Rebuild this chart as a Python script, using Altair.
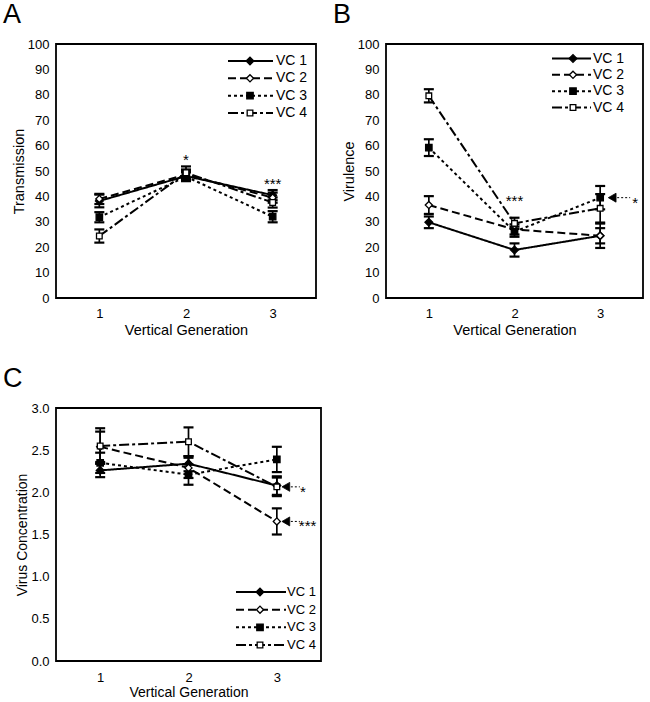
import altair as alt
import pandas as pd

FONT = "Liberation Sans"

generations = [1, 2, 3]
series = ["VC 1", "VC 2", "VC 3", "VC 4"]

# A: transmission, mean and standard error by vertical generation
transmission = {
    "VC 1": [38.2, 48.0, 40.5],
    "VC 2": [39.0, 48.6, 39.5],
    "VC 3": [31.8, 47.8, 32.0],
    "VC 4": [24.4, 49.3, 37.6],
}
transmission_err = {
    "VC 1": [2.5, 2.0, 2.0],
    "VC 2": [2.0, 2.0, 2.0],
    "VC 3": [2.0, 1.6, 2.2],
    "VC 4": [2.6, 2.5, 2.0],
}

# B: virulence
virulence = {
    "VC 1": [29.8, 18.9, 24.5],
    "VC 2": [36.6, 27.0, 24.5],
    "VC 3": [59.2, 26.1, 39.5],
    "VC 4": [79.6, 29.4, 35.3],
}
virulence_err = {
    "VC 1": [2.3, 2.6, 3.0],
    "VC 2": [3.5, 2.0, 4.8],
    "VC 3": [3.3, 2.0, 4.6],
    "VC 4": [2.6, 2.2, 5.6],
}

# C: virus concentration
concentration = {
    "VC 1": [2.26, 2.34, 2.08],
    "VC 2": [2.54, 2.29, 1.655],
    "VC 3": [2.35, 2.21, 2.39],
    "VC 4": [2.55, 2.60, 2.065],
}
concentration_err = {
    "VC 1": [0.08, 0.09, 0.11],
    "VC 2": [0.18, 0.12, 0.155],
    "VC 3": [0.12, 0.12, 0.15],
    "VC 4": [0.21, 0.17, 0.11],
}

ticks_ab = [0, 10, 20, 30, 40, 50, 60, 70, 80, 90, 100]
ticks_c = [0.0, 0.5, 1.0, 1.5, 2.0, 2.5, 3.0]

marker_shapes = ["diamond", "diamond", "square", "square"]
marker_fills = ["black", "white", "black", "white"]
marker_sizes = [60, 32, 55, 55]
line_dashes = [[1, 0], [8, 4], [3, 3], [10, 3, 3, 3]]


def long_table(means, errs):
    rows = []
    for s in series:
        for g, v, e in zip(generations, means[s], errs[s]):
            rows.append({"gen": g, "series": s, "value": v, "lo": v - e, "hi": v + e})
    return pd.DataFrame(rows)


def cap_table(df):
    lo = df[["gen", "series", "lo"]].rename(columns={"lo": "value"})
    hi = df[["gen", "series", "hi"]].rename(columns={"hi": "value"})
    return pd.concat([lo, hi], ignore_index=True)


shape_enc = alt.Shape("series:N", scale=alt.Scale(domain=series, range=marker_shapes), legend=None)
fill_enc = alt.Fill("series:N", scale=alt.Scale(domain=series, range=marker_fills), legend=None)
size_enc = alt.Size("series:N", scale=alt.Scale(domain=series, range=marker_sizes), legend=None)
dash_enc = alt.StrokeDash("series:N", scale=alt.Scale(domain=series, range=line_dashes), legend=None)


def panel(df, letter, ytitle, ydomain, yticks, yfmt, width, height,
          legend_rows, legend_x, legend_font, annotations, fs):
    xscale = alt.Scale(domain=[0.5, 3.5], nice=False, zero=False)
    xaxis = alt.Axis(values=generations, format="d", title="Vertical Generation",
                     ticks=False, domain=False, grid=False,
                     labelPadding=fs["xlabpad"], titlePadding=fs["xtitlepad"],
                     labelFontSize=fs["label"], titleFontSize=fs["title"])
    yscale = alt.Scale(domain=ydomain, nice=False, zero=True)
    yaxis = alt.Axis(values=yticks, format=yfmt, title=ytitle,
                     ticks=False, domain=False, grid=False,
                     labelPadding=fs["ylabpad"], titlePadding=fs["ytitlepad"],
                     labelFontSize=fs["label"], titleFontSize=fs["title"])

    def X(field):
        return alt.X(field, scale=xscale, axis=xaxis)

    def Y(field):
        return alt.Y(field, scale=yscale, axis=yaxis)

    base = alt.Chart(df)
    lines = base.mark_line(color="black", strokeWidth=2).encode(
        x=X("gen:Q"), y=Y("value:Q"), detail="series:N", strokeDash=dash_enc)
    bars = base.mark_rule(color="black", strokeWidth=1.7).encode(
        x=X("gen:Q"), y=Y("lo:Q"), y2="hi:Q")
    caps = alt.Chart(cap_table(df)).mark_rule(
        color="black", strokeWidth=2.2, xOffset=-5, x2Offset=5).encode(
        x=X("gen:Q"), x2="gen:Q", y=Y("value:Q"))
    points = base.mark_point(filled=True, stroke="black", strokeWidth=1.3, opacity=1).encode(
        x=X("gen:Q"), y=Y("value:Q"), shape=shape_enc, fill=fill_enc, size=size_enc)

    layers = [lines, bars, caps, points]
    layers += annotations(X, Y)

    letter_mark = alt.Chart(pd.DataFrame({"label": [letter]})).mark_text(
        align="left", baseline="alphabetic", fontSize=27, font=FONT, color="black").encode(
        x=alt.value(-53), y=alt.value(-21), text="label:N")
    layers.append(letter_mark)

    main = alt.layer(*layers)

    lx0, lx1, lxm, ltx = legend_x
    leg_y = alt.Y("series:N", scale=alt.Scale(type="point", domain=series,
                                               range=legend_rows, padding=0), axis=None)
    leg = alt.Chart(pd.DataFrame({"series": series}))
    leg_lines = leg.mark_rule(color="black", strokeWidth=2).encode(
        y=leg_y, x=alt.value(lx0), x2=alt.value(lx1), strokeDash=dash_enc)
    leg_pts = leg.mark_point(filled=True, stroke="black", strokeWidth=1.3, opacity=1).encode(
        y=leg_y, x=alt.value(lxm), shape=shape_enc, fill=fill_enc, size=size_enc)
    leg_txt = leg.mark_text(align="left", baseline="middle", fontSize=legend_font,
                            font=FONT, color="black").encode(
        y=leg_y, x=alt.value(ltx), text="series:N")
    legend = alt.layer(leg_lines, leg_pts, leg_txt)

    return alt.layer(main, legend).resolve_scale(y="independent").properties(
        width=width, height=height)


def star_above(df, gen, label, dy):
    def build(X, Y):
        anchor = df.loc[df["gen"] == gen, "hi"].max()
        d = pd.DataFrame({"gen": [gen], "value": [anchor], "label": [label]})
        return [alt.Chart(d).mark_text(fontSize=15, font=FONT, baseline="alphabetic",
                                       color="black", dy=dy).encode(
            x=X("gen:Q"), y=Y("value:Q"), text="label:N")]
    return build


def arrow_to(df, gen, s, label, tri_dx, dash_from, dash_to, text_dx, align):
    def build(X, Y):
        v = df.loc[(df["gen"] == gen) & (df["series"] == s), "value"].iloc[0]
        d = pd.DataFrame({"gen": [gen], "value": [v], "label": [label]})
        c = alt.Chart(d)
        tri = c.mark_point(shape="triangle-left", filled=True, fill="black", stroke="black",
                           strokeWidth=0.8, size=80, opacity=1, xOffset=tri_dx).encode(
            x=X("gen:Q"), y=Y("value:Q"))
        dash = c.mark_rule(color="black", strokeWidth=1, strokeDash=[2, 2],
                           xOffset=dash_from, x2Offset=dash_to).encode(
            x=X("gen:Q"), x2="gen:Q", y=Y("value:Q"))
        txt = c.mark_text(fontSize=15, font=FONT, baseline="alphabetic", align=align,
                          color="black", dx=text_dx, dy=10).encode(
            x=X("gen:Q"), y=Y("value:Q"), text="label:N")
        return [tri, dash, txt]
    return build


def combine(*builders):
    def build(X, Y):
        out = []
        for b in builders:
            out += b(X, Y)
        return out
    return build


df_a = long_table(transmission, transmission_err)
df_b = long_table(virulence, virulence_err)
df_c = long_table(concentration, concentration_err)

fs_ab = {"label": 13, "title": 14.5, "xlabpad": 9, "xtitlepad": 3, "ylabpad": 7, "ytitlepad": 1}
fs_c = {"label": 13, "title": 14, "xlabpad": 10, "xtitlepad": 1, "ylabpad": 7, "ytitlepad": 1}

panel_a = panel(df_a, "A", "Transmission", [0, 100], ticks_ab, "d", 260, 254,
                [17, 69], (172, 217, 194, 220), 14,
                combine(star_above(df_a, 2, "*", -1), star_above(df_a, 3, "***", -1)), fs_ab)
panel_b = panel(df_b, "B", "Virulence", [0, 100], ticks_ab, "d", 257, 254,
                [14.5, 63.5], (166, 205, 187, 207), 14,
                combine(star_above(df_b, 2, "***", -12),
                        arrow_to(df_b, 3, "VC 3", "*", 12, 17, 30, 35, "center")), fs_ab)
panel_c = panel(df_c, "C", "Virus Concentration", [0, 3], ticks_c, ".1f", 265, 253,
                [184, 237], (180, 230, 204, 231), 13,
                combine(arrow_to(df_c, 3, "VC 4", "*", 9, 14, 23, 26, "center"),
                        arrow_to(df_c, 3, "VC 2", "***", 9, 14, 23, 22, "left")), fs_c)

top_row = alt.hconcat(panel_a, panel_b, spacing=15)
chart = alt.vconcat(top_row, panel_c, spacing=26).properties(
    padding={"left": 2, "top": 0, "right": 0, "bottom": 0}
).configure(font=FONT).configure_view(
    stroke="black", strokeWidth=1.8
).configure_axis(
    labelFont=FONT, titleFont=FONT, labelColor="black", titleColor="black",
    titleFontWeight="normal"
)

chart.save("out.html", embed_options={"renderer": "svg", "actions": False})
